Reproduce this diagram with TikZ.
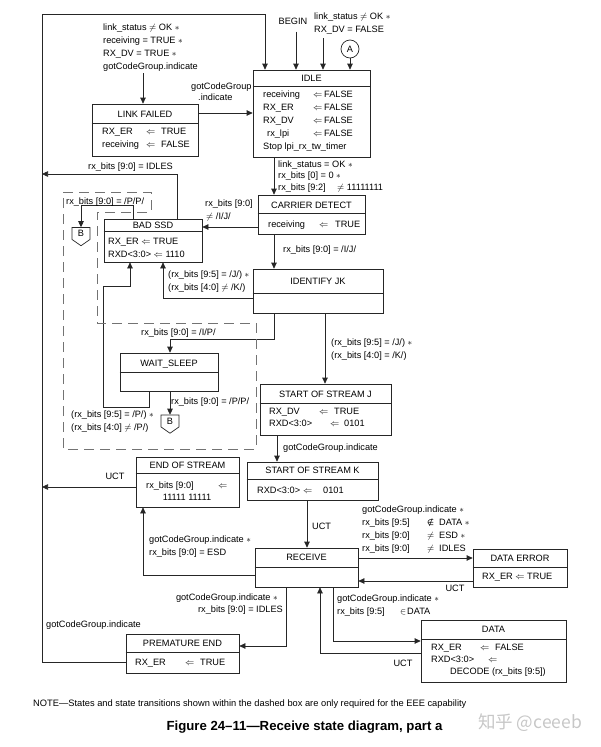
\documentclass[tikz,border=0pt]{standalone}
\usepackage{fontspec}
\setmainfont{Liberation Sans}
\newfontfamily\cjkfont{Noto Sans CJK SC}
\newfontfamily\symfont{DejaVu Sans}
\usetikzlibrary{arrows.meta, shapes.symbols}
\newcommand{\sdfont}{\fontsize{9.2}{13}\selectfont}
\newcommand{\rows}[2]{\begin{tabular}[t]{@{}#1@{}}#2\end{tabular}}
\newcommand{\asg}[4]{\makebox[#1][l]{#2}\makebox[#3][l]{$\Leftarrow$}#4}
\tikzstyle{state} = [rectangle, draw=black!85, line width=0.7pt, inner sep=0pt]
\tikzstyle{wire} = [draw=black!85, line width=0.7pt]
\tikzstyle{stitle} = [inner sep=0pt, text height=6.6pt, text depth=0pt, font=\sdfont]
\tikzstyle{txt} = [inner sep=0pt, anchor=base west, font=\sdfont]
\tikzstyle{arrow} = [line width=0.7pt, draw=black!85, -{Triangle[length=6pt,width=5.5pt]}]
\tikzstyle{eee} = [draw=black!55, line width=0.8pt, dash pattern=on 10pt off 6pt]
\tikzstyle{bmark} = [shape=signal, signal to=south, signal from=nowhere, signal pointer angle=110, draw=black!85, line width=0.7pt, minimum width=18pt, minimum height=14pt, inner sep=0pt, font=\sdfont]

\begin{document}
\begin{tikzpicture}[x=1pt, y=-1pt]
        \useasboundingbox (0,0) rectangle (600,747);

        % states
        \node (idle) [state, minimum width=117pt, minimum height=87pt] at (311.5,113.5) {};
        \node (linkf) [state, minimum width=106pt, minimum height=52pt] at (145,130) {};
        \node (cdetect) [state, minimum width=107pt, minimum height=39pt] at (311.5,214.5) {};
        \node (badssd) [state, minimum width=98pt, minimum height=43pt] at (153,240.5) {};
        \node (idjk) [state, minimum width=130pt, minimum height=44pt] at (318,291) {};
        \node (waitsl) [state, minimum width=98pt, minimum height=38pt] at (169,372) {};
        \node (sosj) [state, minimum width=131pt, minimum height=51pt] at (325.5,409.5) {};
        \node (sosk) [state, minimum width=131pt, minimum height=38pt] at (312.5,481) {};
        \node (eos) [state, minimum width=103pt, minimum height=50pt] at (187.5,482) {};
        \node (receive) [state, minimum width=103pt, minimum height=39pt] at (306.5,567.5) {};
        \node (derr) [state, minimum width=94pt, minimum height=38pt] at (520,568) {};
        \node (prem) [state, minimum width=113pt, minimum height=39pt] at (182.5,653.5) {};
        \node (data) [state, minimum width=145pt, minimum height=62pt] at (493.5,651) {};

        \draw [wire] (idle.west |- 0,86) -- (idle.east |- 0,86);
        \draw [wire] (linkf.west |- 0,123) -- (linkf.east |- 0,123);
        \draw [wire] (cdetect.west |- 0,213) -- (cdetect.east |- 0,213);
        \draw [wire] (badssd.west |- 0,231) -- (badssd.east |- 0,231);
        \draw [wire] (idjk.west |- 0,293) -- (idjk.east |- 0,293);
        \draw [wire] (waitsl.west |- 0,372) -- (waitsl.east |- 0,372);
        \draw [wire] (sosj.west |- 0,403) -- (sosj.east |- 0,403);
        \draw [wire] (sosk.west |- 0,479) -- (sosk.east |- 0,479);
        \draw [wire] (eos.west |- 0,473) -- (eos.east |- 0,473);
        \draw [wire] (receive.west |- 0,567) -- (receive.east |- 0,567);
        \draw [wire] (derr.west |- 0,567) -- (derr.east |- 0,567);
        \draw [wire] (prem.west |- 0,652) -- (prem.east |- 0,652);
        \draw [wire] (data.west |- 0,639) -- (data.east |- 0,639);

        % titles and actions
        \node (idle-t) [stitle] at (311.5,78) {IDLE};
        \node (idle-b) [txt] at (263,97.3) {\rows{l}{\asg{50pt}{receiving}{11pt}{FALSE}\\ \asg{50pt}{RX\_ER}{11pt}{FALSE}\\ \asg{50pt}{RX\_DV}{11pt}{FALSE}\\ \asg{50pt}{\hspace*{4pt}rx\_lpi}{11pt}{FALSE}\\ Stop lpi\_rx\_tw\_timer}};
        \node (linkf-t) [stitle] at (145,114) {LINK FAILED};
        \node (linkf-b) [txt] at (102,134.3) {\rows{l}{\asg{44pt}{RX\_ER}{15pt}{TRUE}\\ \asg{44pt}{receiving}{15pt}{FALSE}}};
        \node (cdetect-t) [stitle] at (311.5,205) {CARRIER DETECT};
        \node (cdetect-b) [txt] at (268,227.3) {\asg{51pt}{receiving}{16pt}{TRUE}};
        \node (badssd-t) [stitle] at (153,225) {BAD SSD};
        \node (badssd-b) [txt] at (108,244.3) {\rows{l}{RX\_ER $\Leftarrow$ TRUE\\ RXD<3:0> $\Leftarrow$ 1110}};
        \node (idjk-t) [stitle] at (318,281.5) {IDENTIFY JK};
        \node (waitsl-t) [stitle] at (169,363) {WAIT\_SLEEP};
        \node (sosj-t) [stitle] at (325.5,394) {START OF STREAM J};
        \node (sosj-b) [txt] at (269,414.3) {\rows{l}{\asg{50pt}{RX\_DV}{15pt}{TRUE}\\[-1pt] \asg{61pt}{RXD<3:0>}{14pt}{0101}}};
        \node (sosk-t) [stitle] at (312.5,470.5) {START OF STREAM K};
        \node (sosk-b) [txt] at (257,493.3) {\asg{46pt}{RXD<3:0>}{20pt}{0101}};
        \node (eos-t) [stitle] at (187.5,465.5) {END OF STREAM};
        \node (eos-b) [txt] at (146,488.3) {\asg{72pt}{rx\_bits [9:0]}{0pt}{}};
        \node (eos-c) [stitle] at (187,497) {11111 11111};
        \node (receive-t) [stitle] at (306.5,557.5) {RECEIVE};
        \node (derr-t) [stitle] at (520,558) {DATA ERROR};
        \node (derr-b) [txt] at (482,579.3) {RX\_ER $\Leftarrow$ TRUE};
        \node (prem-t) [stitle] at (182.5,643) {PREMATURE END};
        \node (prem-b) [txt] at (135,665.3) {\asg{50pt}{RX\_ER}{15pt}{TRUE}};
        \node (data-t) [stitle] at (493.5,629.5) {DATA};
        \node (data-b) [txt] at (431,650.3) {\rows{l}{\asg{49pt}{RX\_ER}{15pt}{FALSE}\\[-1pt] \asg{57pt}{RXD<3:0>}{0pt}{}\\[-1pt] \hspace*{19pt}DECODE (rx\_bits [9:5])}};

        % connectors
        \node (begin) [stitle] at (293,21) {BEGIN};
        \node (conA) [circle, draw=black!85, line width=0.7pt, minimum size=18pt, inner sep=0pt, font=\sdfont] at (350,49) {A};
        \node (b1) [bmark] at (81,233.5) {B};
        \node (b2) [bmark] at (170,421) {B};
        \coordinate (loop) at (42,14);

        \draw [arrow] (prem.west |- 0,662) -| (loop) -| (idle.north -| 265,0);
        \draw [arrow, shorten <=7pt] (begin.south -| 296,0) -- (idle.north -| 296,0);
        \draw [arrow] (conA.south) -- (idle.north -| conA.south);
        \draw [arrow] (linkf.east |- 0,113) -- (idle.west |- 0,113);
        \draw [arrow] (idle.south -| 274,0) -- (cdetect.north -| 274,0);
        \draw [arrow] (cdetect.west |- 0,227) -- (badssd.east |- 0,227);
        \draw [arrow] (cdetect.south -| 274,0) -- (idjk.north -| 274,0);
        \draw [arrow] (idjk.west |- 0,298) -| (badssd.south -| 163,0);
        \draw [arrow] (badssd.north -| 177,0) |- (loop |- 0,174);
        \draw [arrow] (badssd.north -| 133,0) -- ++(0,-13) -| (b1.north);
        \draw [arrow] (idjk.south -| 274,0) -- ++(0,26) -| (waitsl.north -| 170,0);
        \draw [arrow] (waitsl.south -| 170,0) -- (b2.north);
        \draw [arrow] (waitsl.south -| 149,0) |- (103,407) |- (130,286) -- (badssd.south -| 130,0);
        \draw [arrow] (idjk.south -| 325,0) -- (sosj.north -| 325,0);
        \draw [arrow] (sosj.south -| 277,0) -- (sosk.north -| 277,0);
        \draw [arrow] (sosk.south -| 307,0) -- (receive.north -| 307,0);
        \draw [arrow] (eos.west |- 0,487) -- (loop |- 0,487);
        \draw [arrow] (receive.west |- 0,575) -| (eos.south -| 143,0);
        \draw [arrow] (receive.east |- 0,558) -- (derr.west |- 0,558);
        \draw [arrow] (derr.west |- 0,581) -- (receive.east |- 0,581);
        \draw [arrow] (receive.south -| 286,0) |- (prem.east |- 0,646);
        \draw [arrow] (receive.south -| 333,0) |- (data.west |- 0,641);
        \draw [arrow] (data.west |- 0,653) -| (receive.south -| 320,0);

        % transition conditions
        \node (lf-lab) [txt] at (103,30.3) {\rows{l}{link\_status $\neq$ OK $\ast$\\ receiving = TRUE $\ast$\\ RX\_DV = TRUE $\ast$\\ gotCodeGroup.indicate}};
        \draw [arrow] (lf-lab.south -| 143,0) -- (linkf.north -| 143,0);
        \node (lfi-lab) [txt] at (191,89.3) {\rows{l}{gotCodeGroup\\[-2pt] \hspace*{7pt}.indicate}};
        \node (lsrx-lab) [txt] at (314,19.3) {\rows{l}{link\_status $\neq$ OK $\ast$\\ RX\_DV = FALSE}};
        \draw [arrow, shorten <=2pt] (lsrx-lab.south -| 323,0) -- (idle.north -| 323,0);
        \node (idcd-lab) [txt] at (278,167.3) {\rows{l}{link\_status = OK $\ast$\\[-1.5pt] rx\_bits [0] = 0 $\ast$\\[-1.5pt] \makebox[59pt][l]{rx\_bits [9:2]}$\neq$ 11111111}};
        \node (cdbs-lab) [txt] at (205,206.3) {\rows{l}{rx\_bits [9:0]\\ \hspace*{1pt}$\neq$ /I/J/}};
        \node (cdij-lab) [txt] at (283,252.3) {rx\_bits [9:0] = /I/J/};
        \node (ijbs-lab) [txt] at (168,277.3) {\rows{l}{(rx\_bits [9:5] = /J/) $\ast$\\ (rx\_bits [4:0] $\neq$ /K/)}};
        \node (bsidle-lab) [stitle] at (130.5,166) {rx\_bits [9:0] = IDLES};
        \node (bsb-lab) [txt] at (66,204.3) {rx\_bits [9:0] = /P/P/};
        \node (ijws-lab) [txt] at (141,335.3) {rx\_bits [9:0] = /I/P/};
        \node (wsb-lab) [txt] at (171,404.3) {rx\_bits [9:0] = /P/P/};
        \node (wsbs-lab) [txt] at (71,417.3) {\rows{l}{(rx\_bits [9:5] = /P/) $\ast$\\ (rx\_bits [4:0] $\neq$ /P/)}};
        \node (ijsj-lab) [txt] at (331,345.3) {\rows{l}{(rx\_bits [9:5] = /J/) $\ast$\\ (rx\_bits [4:0] = /K/)}};
        \node (sjsk-lab) [txt] at (283,450.3) {gotCodeGroup.indicate};
        \node (eos-uct) [stitle] at (115,476) {UCT};
        \node (sk-uct) [txt] at (312,529.3) {UCT};
        \node (rceos-lab) [txt] at (149,542.3) {\rows{l}{gotCodeGroup.indicate $\ast$\\ rx\_bits [9:0] = ESD}};
        \node (rcde-lab) [txt] at (362,512.3) {\rows{l}{gotCodeGroup.indicate $\ast$\\ \makebox[65pt][l]{rx\_bits [9:5]}\makebox[12pt][l]{{\symfont\fontsize{8}{10}\selectfont ∉}}DATA $\ast$\\ \makebox[65pt][l]{rx\_bits [9:0]}\makebox[12pt][l]{$\neq$}ESD $\ast$\\ \makebox[65pt][l]{rx\_bits [9:0]}\makebox[12pt][l]{$\neq$}IDLES}};
        \node (de-uct) [stitle] at (455,588) {UCT};
        \node (rcpe-lab) [txt, anchor=base east] at (283,600.3) {\rows{r}{gotCodeGroup.indicate $\ast$\hspace*{5pt}\\[-1pt] rx\_bits [9:0] = IDLES}};
        \node (pe-lab) [txt] at (46,627.3) {gotCodeGroup.indicate};
        \node (rcda-lab) [txt] at (337,601.3) {\rows{l}{gotCodeGroup.indicate $\ast$\\ \makebox[63pt][l]{rx\_bits [9:5]}\makebox[7pt][l]{$\in$}DATA}};
        \node (da-uct) [stitle] at (403,663) {UCT};

        % EEE region
        \draw [eee] (63,192) -- (151,192) -- (151,212) -- (97,212) -- (97,323) -- (256,323) -- (256,449) -- (63,449) -- cycle;

        \node (note) [txt, font=\fontsize{9.3}{11}\selectfont] at (33,706.3) {NOTE—States and state transitions shown within the dashed box are only required for the EEE capability};
        \node (caption) [inner sep=0pt, font=\fontsize{13.2}{15}\selectfont\bfseries] at (304.5,727) {Figure 24–11—Receive state diagram, part a};
        \node (mark) [inner sep=0pt, text=black!22, font=\fontsize{17.5}{20}\cjkfont] at (530,723) {知乎 @ceeeb};

        \end{tikzpicture}
\end{document}
